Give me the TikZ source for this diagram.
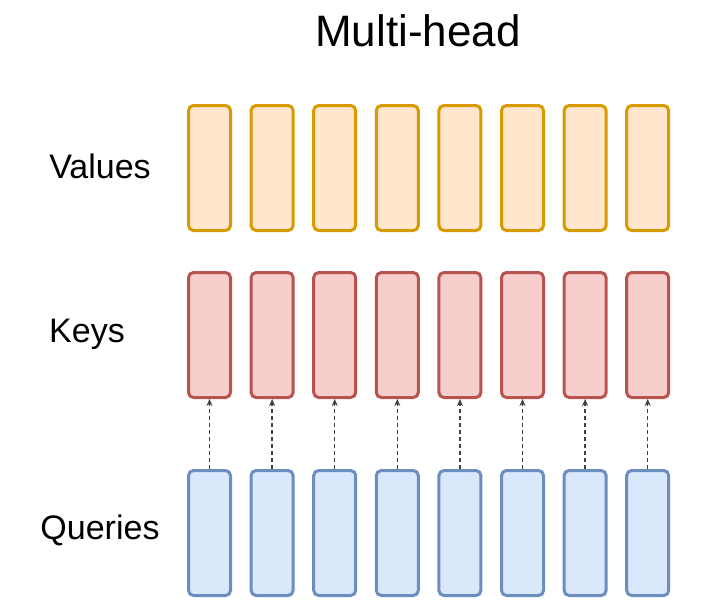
\documentclass[tikz,border=0pt]{standalone}
\usepackage{fontspec}
\setmainfont{Liberation Sans}
\usetikzlibrary{positioning, arrows.meta}
\definecolor{valfill}{HTML}{FFE6CC}\definecolor{valdraw}{HTML}{D79B00}
\definecolor{keyfill}{HTML}{F8CECC}\definecolor{keydraw}{HTML}{B85450}
\definecolor{qryfill}{HTML}{DAE8FC}\definecolor{qrydraw}{HTML}{6C8EBF}
\begin{document}
\begin{tikzpicture}[x=1pt, y=-1pt,
    cell/.style={rounded corners=5pt, line width=3pt, minimum width=42pt, minimum height=125pt, inner sep=0pt},
    lbl/.style={font=\fontsize{34}{40}\selectfont}]
  \useasboundingbox (0,0) rectangle (703,608);
  \node[font=\fontsize{44}{52}\selectfont] (title) at (418,31) {Multi-head};
  \node[lbl] (vals) at (100,166) {Values};
  \node[lbl] (keys) at (87,334) {Keys};
  \node[lbl] (qrys) at (100,530) {Queries};
  \foreach \i in {0,...,7} {
    \node[cell, draw=valdraw, fill=valfill] (V\i) at (209.5+62.6*\i,168) {};
    \node[cell, draw=keydraw, fill=keyfill] (K\i) at (209.5+62.6*\i,335) {};
    \node[cell, draw=qrydraw, fill=qryfill] (Q\i) at (209.5+62.6*\i,533) {};
    \draw[-{Stealth[length=7pt,width=6pt]}, dash pattern=on 4pt off 3pt, line width=1.5pt, draw=black!75] (Q\i) -- (K\i);
  }
\end{tikzpicture}
\end{document}
